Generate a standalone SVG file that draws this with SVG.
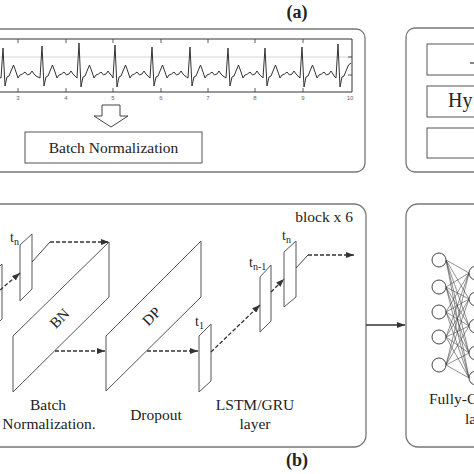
<svg xmlns="http://www.w3.org/2000/svg" width="474" height="474" viewBox="0 0 474 474">
<defs>
<style>
.panel{fill:none;stroke:#777;stroke-width:1.3}
.box{fill:#fff;stroke:#555;stroke-width:1}
.para{fill:#fff;stroke:#555;stroke-width:1}
.dash{fill:none;stroke:#333;stroke-width:1.3;stroke-dasharray:4 2;marker-end:url(#ah)}
.solid{fill:none;stroke:#444;stroke-width:1}
.t{font-family:"Liberation Serif",serif;fill:#222}
.tick{font-family:"Liberation Sans",sans-serif;font-size:6px;fill:#666;text-anchor:middle}
.nn{fill:#fff;stroke:#444;stroke-width:1}
.w{stroke:#444;stroke-width:0.6}
</style>
<marker id="ah" markerUnits="userSpaceOnUse" markerWidth="8" markerHeight="6" refX="8" refY="3" orient="auto">
<path d="M0,0 L8,3 L0,6 z" fill="#333"/>
</marker>
<clipPath id="plotclip"><rect x="-10" y="39" width="362" height="53"/></clipPath>
</defs>
<rect width="474" height="474" fill="#fff"/>

<text class="t" x="297" y="17.5" font-size="18" font-weight="bold" text-anchor="middle">(a)</text>
<text class="t" x="297" y="465.5" font-size="18" font-weight="bold" text-anchor="middle">(b)</text>

<!-- panel a left -->
<g id="panel-a-signal">
<rect class="panel" x="-20" y="29" width="385" height="143" rx="9"/>
<line x1="-10" y1="57" x2="352" y2="57" stroke="#ccc" stroke-width="0.8"/>
<path clip-path="url(#plotclip)" fill="none" stroke="#333" stroke-width="1" stroke-linejoin="round" d="M -5,76 L 1,78 L 3,48 L 5,86 L 7,77 L 9,76 L 11,71 L 13.5,65 L 16,72 L 18,78 L 20,75 L 22.5,74 L 25,72 L 27.5,75 L 30,74 L 32,71 L 34,74 L 36,76 L 40,78 L 42,46 L 44,86 L 46,77 L 48,76 L 50,71 L 52.5,65 L 55,72 L 57,78 L 59,75 L 61.5,74 L 64,72 L 66.5,75 L 69,74 L 71,71 L 73,74 L 75,76 L 77,78 L 79,43 L 81,87 L 83,77 L 85,76 L 87,71 L 89.5,65 L 92,72 L 94,78 L 96,75 L 98.5,74 L 101,72 L 103.5,75 L 106,74 L 108,71 L 110,74 L 112,76 L 113,78 L 115,45 L 117,87 L 119,77 L 121,76 L 123,71 L 125.5,65 L 128,72 L 130,78 L 132,75 L 134.5,74 L 137,72 L 139.5,75 L 142,74 L 144,71 L 146,74 L 148,76 L 150,78 L 152,47 L 154,86 L 156,77 L 158,76 L 160,71 L 162.5,65 L 165,72 L 167,78 L 169,75 L 171.5,74 L 174,72 L 176.5,75 L 179,74 L 181,71 L 183,74 L 185,76 L 188,78 L 190,47 L 192,86 L 194,77 L 196,76 L 198,71 L 200.5,65 L 203,72 L 205,78 L 207,75 L 209.5,74 L 212,72 L 214.5,75 L 217,74 L 219,71 L 221,74 L 223,76 L 226,78 L 228,48 L 230,86 L 232,77 L 234,76 L 236,71 L 238.5,65 L 241,72 L 243,78 L 245,75 L 247.5,74 L 250,72 L 252.5,75 L 255,74 L 257,71 L 259,74 L 261,76 L 263,78 L 265,48 L 267,86 L 269,77 L 271,76 L 273,71 L 275.5,65 L 278,72 L 280,78 L 282,75 L 284.5,74 L 287,72 L 289.5,75 L 292,74 L 294,71 L 296,74 L 298,76 L 300,78 L 302,47 L 304,87 L 306,77 L 308,76 L 310,71 L 312.5,65 L 315,72 L 317,78 L 319,75 L 321.5,74 L 324,72 L 326.5,75 L 329,74 L 331,71 L 333,74 L 334,76 L 336,78 L 338,44 L 340,87 L 342,77 L 344,76 L 346,71 L 348.5,65 L 351,63"/>
<path fill="none" stroke="#333" stroke-width="1" d="M-10,39 H352 V92 H-10"/>
<path fill="none" stroke="#333" stroke-width="0.8" d="M18,39 v4 M66,39 v4 M113,39 v4 M161,39 v4 M208,39 v4 M255,39 v4 M303,39 v4 M18,92 v-4 M66,92 v-4 M113,92 v-4 M161,92 v-4 M208,92 v-4 M255,92 v-4 M303,92 v-4 M352,57 h-4 M352,75 h-4"/>
<text class="tick" x="18" y="100">3</text>
<text class="tick" x="66" y="100">4</text>
<text class="tick" x="113" y="100">5</text>
<text class="tick" x="161" y="100">6</text>
<text class="tick" x="208" y="100">7</text>
<text class="tick" x="255" y="100">8</text>
<text class="tick" x="303" y="100">9</text>
<text class="tick" x="350" y="100">10</text>
<polygon points="102,105 120,105 120,116 128,116 111,127 94,116 102,116" fill="#fff" stroke="#444" stroke-width="1"/>
</g>
<g id="node-batchnorm-a">
<rect class="box" x="25" y="132" width="177" height="31"/>
<text class="t" x="113.5" y="153" font-size="15.5" text-anchor="middle">Batch Normalization</text>
</g>

<!-- panel a right -->
<g id="panel-a-right">
<rect class="panel" x="406" y="28" width="90" height="144" rx="9"/>
<rect class="box" x="427" y="44" width="70" height="31"/>
<line x1="470" y1="63" x2="474" y2="63" stroke="#333" stroke-width="1.2"/>
<rect class="box" x="427" y="86" width="70" height="31"/>
<text class="t" x="448" y="107" font-size="20">Hy</text>
<rect class="box" x="427" y="128" width="70" height="30"/>
</g>

<!-- panel b -->
<g id="panel-b-block">
<rect class="panel" x="-20" y="204" width="386" height="243" rx="12"/>
<text class="t" x="353" y="222" font-size="15.5" text-anchor="end">block x 6</text>
</g>

<g id="node-prev"><polygon class="para" points="-10,276 2,264 2,319 -10,331"/></g>
<g id="node-tn-left">
<polygon class="para" points="20,245 32,234 32,289 20,301"/>
<text class="t" x="10" y="242" font-size="14">t<tspan font-size="10" dy="3">n</tspan></text>
</g>
<g id="node-bn">
<polygon class="para" points="13,336 109,242 109,297 13,392"/>
<text class="t" x="0" y="0" font-size="15" text-anchor="middle" transform="translate(63,322) rotate(-45)">BN</text>
</g>
<g id="node-dp">
<polygon class="para" points="106,336 201,241 201,297 106,391"/>
<text class="t" x="0" y="0" font-size="15" text-anchor="middle" transform="translate(155,320) rotate(-45)">DP</text>
</g>
<g id="node-t1">
<polygon class="para" points="199,336 211,324 211,381 199,392"/>
<text class="t" x="195" y="326" font-size="14">t<tspan font-size="10" dy="3">1</tspan></text>
</g>
<g id="node-tn1">
<polygon class="para" points="260,277 271,265 271,321 260,332"/>
<text class="t" x="249" y="267" font-size="14">t<tspan font-size="10" dy="3">n-1</tspan></text>
</g>
<g id="node-tn-right">
<polygon class="para" points="284,252 296,241 296,297 284,307"/>
<text class="t" x="282" y="240" font-size="14">t<tspan font-size="10" dy="3">n</tspan></text>
</g>

<g id="labels-b">
<text class="t" x="48" y="410" font-size="15.5" text-anchor="middle">Batch</text>
<text class="t" x="49" y="429" font-size="15.5" text-anchor="middle">Normalization.</text>
<text class="t" x="156" y="420" font-size="15.5" text-anchor="middle">Dropout</text>
<text class="t" x="255" y="410" font-size="15.5" text-anchor="middle">LSTM/GRU</text>
<text class="t" x="255" y="429" font-size="15.5" text-anchor="middle">layer</text>
</g>

<g id="connectors">
<line class="dash" x1="0" y1="290" x2="20" y2="273"/>
<line class="solid" x1="32" y1="262" x2="50" y2="242"/>
<line class="dash" x1="50" y1="242" x2="109" y2="242"/>
<line class="dash" x1="55" y1="351" x2="105" y2="351"/>
<line class="dash" x1="147" y1="351" x2="198" y2="351"/>
<line class="dash" x1="211" y1="352" x2="260" y2="305"/>
<line class="dash" x1="271" y1="292" x2="284" y2="279"/>
<line class="solid" x1="296" y1="268" x2="308" y2="255"/>
<line class="dash" x1="308" y1="255" x2="354" y2="255"/>
<line x1="366" y1="325" x2="405" y2="325" stroke="#333" stroke-width="1.3" marker-end="url(#ah)"/>
</g>

<g id="node-fc">
<rect class="panel" x="406" y="204" width="90" height="243" rx="12"/>
<g class="w">
<path d="M446,260 L469,273 M446,260 L469,299 M446,260 L469,326 M446,260 L469,353 M446,260 L469,378 M446,287 L469,273 M446,287 L469,299 M446,287 L469,326 M446,287 L469,353 M446,287 L469,378 M446,312 L469,273 M446,312 L469,299 M446,312 L469,326 M446,312 L469,353 M446,312 L469,378 M446,337 L469,273 M446,337 L469,299 M446,337 L469,326 M446,337 L469,353 M446,337 L469,378 M446,365 L469,273 M446,365 L469,299 M446,365 L469,326 M446,365 L469,353 M446,365 L469,378"/>
</g>
<circle class="nn" cx="439" cy="260" r="7"/>
<circle class="nn" cx="439" cy="287" r="7"/>
<circle class="nn" cx="439" cy="312" r="7"/>
<circle class="nn" cx="439" cy="337" r="7"/>
<circle class="nn" cx="439" cy="365" r="7"/>
<circle class="nn" cx="476" cy="273" r="7"/>
<circle class="nn" cx="476" cy="299" r="7"/>
<circle class="nn" cx="476" cy="326" r="7"/>
<circle class="nn" cx="476" cy="353" r="7"/>
<circle class="nn" cx="476" cy="378" r="7"/>
<text class="t" x="429" y="404" font-size="15.5">Fully-C</text>
<text class="t" x="465" y="424" font-size="15.5">la</text>
</g>
</svg>
